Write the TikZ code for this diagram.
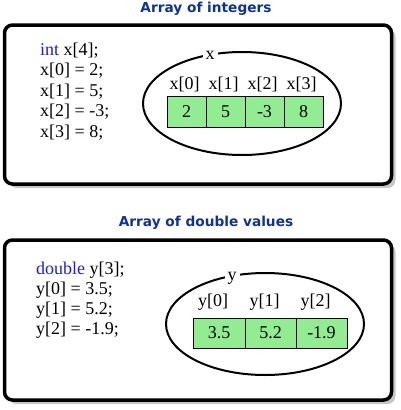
\documentclass[tikz,border=0pt]{standalone}
\usepackage{fontspec}
\setmainfont{Liberation Serif}
\newfontfamily\titlefont{DejaVu Sans}
\usetikzlibrary{positioning}

\definecolor{titleblue}{RGB}{16,50,145}
\definecolor{keyblue}{RGB}{30,30,215}
\definecolor{cellgreen}{RGB}{146,236,146}

\tikzset{
  title/.style={font=\titlefont\bfseries\fontsize{13.7}{15}\selectfont, text=titleblue, anchor=base},
  panel/.style={draw, line width=3.5pt, rounded corners=8pt, fill=white},
  panelshadow/.style={fill=black!22, rounded corners=8pt},
  codeline/.style={font=\fontsize{18}{20}\selectfont, anchor=base west, inner sep=0pt},
  cell/.style={draw, fill=cellgreen, outer sep=0pt, inner sep=0pt, minimum height=31pt,
    font=\fontsize{18}{20}\selectfont},
  index/.style={font=\fontsize{18}{20}\selectfont, inner sep=0pt},
  ring/.style={draw, line width=2pt},
  ringname/.style={font=\fontsize{18}{20}\selectfont, fill=white, inner sep=3pt, anchor=base},
}

\begin{document}
\begin{tikzpicture}[x=1pt, y=-1pt]
  \useasboundingbox (0,0) rectangle (400,410);

  % integer array
  \node[title] (titleint) at (206,12) {Array of integers};
  \fill[panelshadow] (8.5,29) rectangle (395.5,188);
  \draw[panel] (4.5,25) rectangle (391.5,184);

  \foreach \txt [count=\i] in {{{\color{keyblue}int} x[4];}, {x[0] = 2;}, {x[1] = 5;}, {x[2] = -3;}, {x[3] = 8;}}
    \node[codeline] (xcode\i) at (40,{55+20.5*(\i-1)}) {\txt};

  \draw[ring] (242,103.5) ellipse (99 and 51.5);
  \node[ringname] (xname) at (210,59) {x};

  \node[cell, minimum width=39pt] (x0) at (186.5,111.5) {2};
  \node[cell, minimum width=39pt, right=0pt of x0] (x1) {5};
  \node[cell, minimum width=39pt, right=0pt of x1] (x2) {-3};
  \node[cell, minimum width=39pt, right=0pt of x2] (x3) {8};
  \foreach \i in {0,...,3}
    \node[index, above=4pt of x\i, xshift=-2pt] (xi\i) {x[\i]};

  % double array
  \node[title] (titledbl) at (206,226) {Array of double values};
  \fill[panelshadow] (8.5,244) rectangle (395.5,404);
  \draw[panel] (4.5,240) rectangle (391.5,400);

  \foreach \txt [count=\i] in {{{\color{keyblue}double} y[3];}, {y[0] = 3.5;}, {y[1] = 5.2;}, {y[2] = -1.9;}}
    \node[codeline] (ycode\i) at (36,{274+20.3*(\i-1)}) {\txt};

  \draw[ring] (265,324) ellipse (99 and 51);
  \node[ringname] (yname) at (232,280) {y};

  \node[cell, minimum width=52pt, minimum height=30pt] (y0) at (219,333) {3.5};
  \node[cell, minimum width=51pt, minimum height=30pt, right=0pt of y0] (y1) {5.2};
  \node[cell, minimum width=51pt, minimum height=30pt, right=0pt of y1] (y2) {-1.9};
  \foreach \i in {0,...,2}
    \node[index, above=7pt of y\i, xshift=-6pt] (yi\i) {y[\i]};
\end{tikzpicture}
\end{document}
